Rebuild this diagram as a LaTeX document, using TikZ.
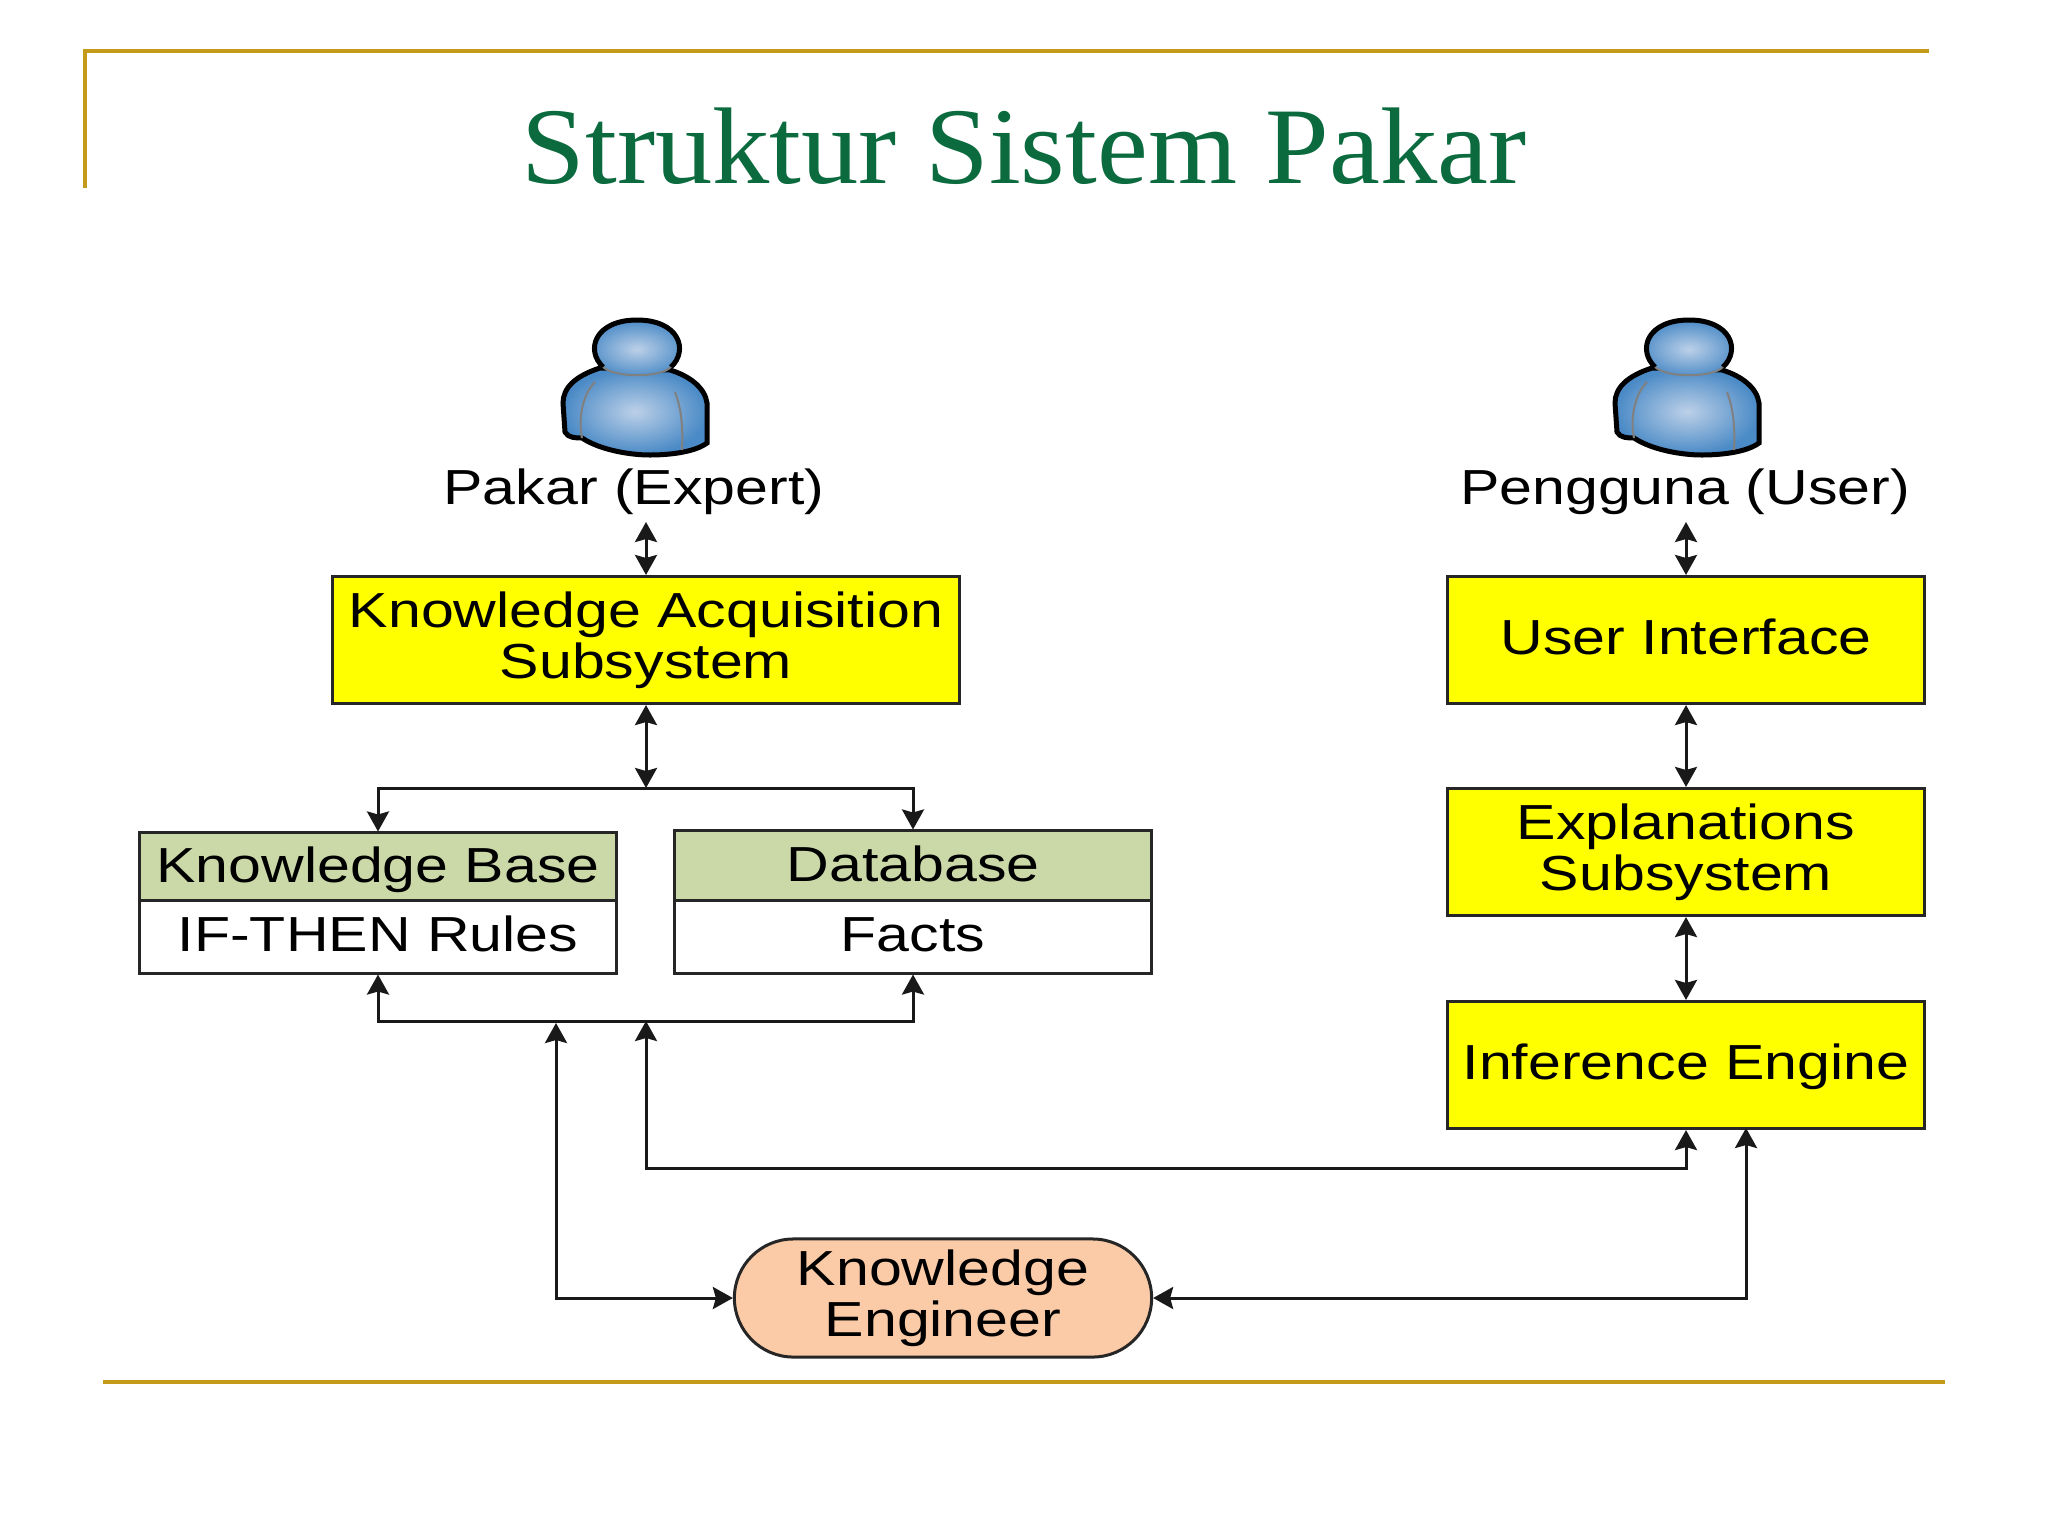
\documentclass[tikz,border=0pt]{standalone}
\usepackage{fontspec}
\setmainfont{Liberation Sans}[FakeStretch=1.2]
\newfontfamily\titlefont{Liberation Serif}[FakeStretch=1.05]
\usetikzlibrary{arrows.meta}
\definecolor{gold}{HTML}{C49A1A}
\definecolor{titlegreen}{HTML}{0B6B3E}
\definecolor{headgreen}{HTML}{CBD9A8}
\definecolor{peach}{HTML}{FBCBA7}
\definecolor{boxyellow}{RGB}{255,255,0}
\definecolor{personlight}{HTML}{BCD0E8}
\definecolor{persondark}{HTML}{4A8AC6}
\tikzset{
  >={Stealth[length=0.2cm, width=0.22cm, inset=0.03cm]},
  every node/.append style={font=\fontsize{14}{14.5}\selectfont, align=center, inner sep=0pt, text height=0.36cm, text depth=0.08cm},
  twolines/.style={text height=, text depth=},
  box/.style={draw=black!85, line width=0.03cm, minimum width=4.76cm},
  yellowbox/.style={box, fill=boxyellow, minimum height=1.27cm},
  headbox/.style={box, fill=headgreen, text depth=0.05cm},
  bodybox/.style={box, fill=white, minimum height=0.72cm},
  link/.style={line width=0.03cm, black!90, <->},
  linkto/.style={line width=0.03cm, black!90, ->},
  rule/.style={gold, line width=0.045cm},
  person/.pic={
    \shade[draw=black, line width=0.05cm, inner color=personlight, outer color=persondark]
      (600,368) .. controls (575,376) and (563,388) .. (563,403)
      -- (565,432) .. controls (568,438) and (576,438) .. (582,438)
      .. controls (600,450) and (630,455) .. (650,455)
      .. controls (670,455) and (695,452) .. (707,443)
      -- (707,403) .. controls (705,388) and (690,376) .. (670,370) -- cycle;
    \draw[black!50, line width=0.02cm] (595,382) .. controls (582,395) and (578,420) .. (582,438);
    \draw[black!50, line width=0.02cm] (675,392) .. controls (682,410) and (683,430) .. (682,450);
    \shade[draw=black!50, line width=0.02cm, inner color=personlight, outer color=persondark]
      (603,367) .. controls (585,350) and (595,320) .. (637,320)
      .. controls (679,320) and (689,350) .. (671,367)
      .. controls (660,378) and (615,378) .. (603,367) -- cycle;
    \draw[black, line width=0.05cm]
      (603,367) .. controls (585,350) and (595,320) .. (637,320)
      .. controls (679,320) and (689,350) .. (671,367);
  }
}
\begin{document}
\begin{tikzpicture}[x=0.01cm, y=-0.01cm]
  \useasboundingbox (0,0) rectangle (2048,1536);
  % frame lines
  \draw[rule] (85,188) -- (85,51) -- (1929,51);
  \draw[rule] (103,1382) -- (1945,1382);
  \node[text=titlegreen, font=\titlefont\fontsize{31}{31}\selectfont] (title) at (1024,169) {Struktur Sistem Pakar};

  % people
  \pic at (0,0) {person};
  \pic at (1052,0) {person};
  \node (expert) at (634,490) {Pakar (Expert)};
  \node (user) at (1685,490) {Pengguna (User)};

  % boxes
  \node[yellowbox, twolines, minimum width=6.26cm] (acq) at (646,640) {Knowledge Acquisition\\Subsystem};
  \node[yellowbox] (ui) at (1686,640) {User Interface};
  \node[yellowbox, twolines] (expl) at (1686,852) {Explanations\\Subsystem};
  \node[yellowbox] (inf) at (1686,1065) {Inference Engine};
  \node[headbox, minimum height=0.68cm] (kbHead) at (378,867) {Knowledge Base};
  \node[bodybox] (kbBody) at (378,937) {IF-THEN Rules};
  \node[headbox, minimum height=0.70cm] (dbHead) at (913,866) {Database};
  \node[bodybox] (dbBody) at (913,937) {Facts};
  \node[draw=black!85, line width=0.03cm, fill=peach, twolines, rounded corners=0.59cm, minimum width=4.17cm, minimum height=1.18cm] (ke) at (943,1298) {Knowledge\\Engineer};

  % free ends
  \coordinate (expertOut) at (646,522);
  \coordinate (userOut) at (1686,522);
  \coordinate (split) at (646,788);
  \coordinate (merge) at (646,1021);
  \coordinate (keTop) at (556,1023);
  \coordinate (infRight) at (1746,1128);

  % connectors
  \draw[link] (expertOut) -- (acq.north);
  \draw[link] (userOut) -- (ui.north);
  \draw[link] (acq.south) -- (split);
  \draw[link] (ui.south) -- (expl.north);
  \draw[link] (expl.south) -- (inf.north);
  \draw[linkto] (split) -| (kbHead.north);
  \draw[linkto] (split) -| (dbHead.north);
  \draw[linkto] (merge) -| (kbBody.south);
  \draw[linkto] (merge) -| (dbBody.south);
  \draw[link] (inf.south) -- ++(0,38) -| (merge);
  \draw[link] (keTop) |- (ke.west);
  \draw[link] (infRight) |- (ke.east);
\end{tikzpicture}
\end{document}
